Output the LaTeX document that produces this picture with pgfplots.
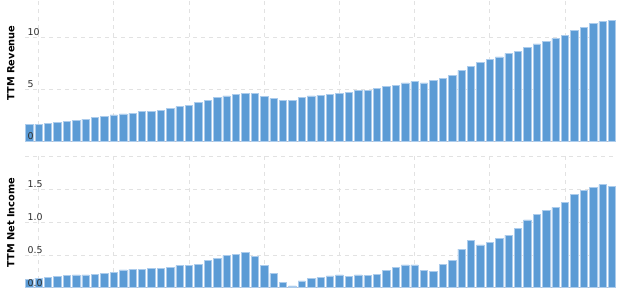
\documentclass[border=0pt]{standalone}
\usepackage{pgfplots}
\pgfplotsset{compat=1.18}
\usepackage{pgfplotstable}
\usepackage{fontspec}
\setmainfont{DejaVu Sans}
\definecolor{barfill}{RGB}{91,155,213}
\definecolor{barline}{RGB}{172,204,236}
\definecolor{gridc}{RGB}{226,226,226}
\definecolor{labc}{RGB}{45,45,45}

\pgfplotstableread{
x y
1 1.6
2 1.6
3 1.7
4 1.8
5 1.92
6 2.0
7 2.1
8 2.28
9 2.34
10 2.5
11 2.6
12 2.66
13 2.82
14 2.88
15 2.98
16 3.14
17 3.3
18 3.46
19 3.7
20 3.94
21 4.17
22 4.33
23 4.49
24 4.58
25 4.58
26 4.26
27 4.1
28 3.94
29 3.94
30 4.17
31 4.33
32 4.39
33 4.49
34 4.58
35 4.68
36 4.84
37 4.9
38 5.06
39 5.22
40 5.35
41 5.6
42 5.7
43 5.6
44 5.83
45 6.03
46 6.31
47 6.79
48 7.21
49 7.53
50 7.85
51 8.08
52 8.43
53 8.59
54 8.97
55 9.33
56 9.55
57 9.87
58 10.19
59 10.67
60 10.9
61 11.3
62 11.47
63 11.57
}\revenue

\pgfplotstableread{
x y
1 0.132
2 0.147
3 0.158
4 0.173
5 0.183
6 0.193
7 0.193
8 0.208
9 0.218
10 0.234
11 0.269
12 0.284
13 0.284
14 0.299
15 0.299
16 0.31
17 0.335
18 0.335
19 0.36
20 0.41
21 0.451
22 0.492
23 0.512
24 0.538
25 0.477
26 0.335
27 0.218
28 0.082
29 0.026
30 0.102
31 0.147
32 0.152
33 0.178
34 0.193
35 0.167
36 0.193
37 0.183
38 0.208
39 0.258
40 0.31
41 0.345
42 0.345
43 0.258
44 0.243
45 0.36
46 0.41
47 0.588
48 0.72
49 0.649
50 0.69
51 0.75
52 0.8
53 0.902
54 1.029
55 1.12
56 1.17
57 1.22
58 1.298
59 1.413
60 1.474
61 1.526
62 1.565
63 1.535
}\netincome

\pgfplotsset{
  panel/.style={
    scale only axis,
    width=591pt,
    xmin=0.558, xmax=63.43,
    ymin=0,
    axis x line*=bottom,
    axis y line*=left,
    x axis line style={-, draw={rgb,255:red,190;green,190;blue,200}, line width=0.5pt},
    y axis line style={draw=none},
    major tick length=0pt,
    xtick={2,10,...,58},
    xticklabels={},
    xmajorgrids, ymajorgrids,
    major grid style={draw=gridc, line width=0.6pt, dash pattern=on 4pt off 4pt},
    yticklabels={},
    ylabel style={rotate=0, anchor=center, font=\fontsize{9.8}{12}\selectfont\bfseries, text=black},
    clip=false,
  },
  labels/.style={
    scale only axis,
    width=591pt,
    xmin=0.558, xmax=63.43,
    ymin=0,
    axis line style={draw=none},
    major tick length=0pt,
    xtick=\empty,
    ymajorgrids=false, xmajorgrids=false,
    /pgf/number format/assume math mode=true,
    yticklabel style={anchor=south west, xshift=-0.8pt, yshift=-2.2pt,
      font=\fontsize{9.4}{11}\selectfont, text=labc},
  },
  bars/.style={ybar, bar width=0.78, bar shift=0pt, fill=barfill, draw=barline, line width=0.5pt},
}

\begin{document}
\begin{tikzpicture}[x=1pt,y=1pt]
\path[use as bounding box] (0,0) rectangle (640,299);

\begin{axis}[panel,
  at={(25pt,158pt)}, anchor=south west,
  height=141pt, ymax=13.56,
  ytick={0,5,10},
  ylabel={TTM Revenue},
  ylabel style={at={(axis description cs:-0.0237,0.553)}},
]
\addplot[bars] table[x=x,y=y] {\revenue};
\end{axis}
\begin{axis}[labels,
  at={(25pt,158pt)}, anchor=south west,
  height=141pt, ymax=13.56,
  ytick={0,5,10}, yticklabels={0,5,10},
]
\end{axis}

\begin{axis}[panel,
  at={(25pt,11.3pt)}, anchor=south west,
  height=132.7pt, ymax=2.017,
  ytick={0,0.5,1,1.5,2},
  ylabel={TTM Net Income},
  ylabel style={at={(axis description cs:-0.0237,0.491)}},
]
\addplot[bars] table[x=x,y=y] {\netincome};
\end{axis}
\begin{axis}[labels,
  at={(25pt,11.3pt)}, anchor=south west,
  height=132.7pt, ymax=2.017,
  ytick={0,0.5,1,1.5}, yticklabels={0.0,0.5,1.0,1.5},
]
\end{axis}
\end{tikzpicture}
\end{document}
